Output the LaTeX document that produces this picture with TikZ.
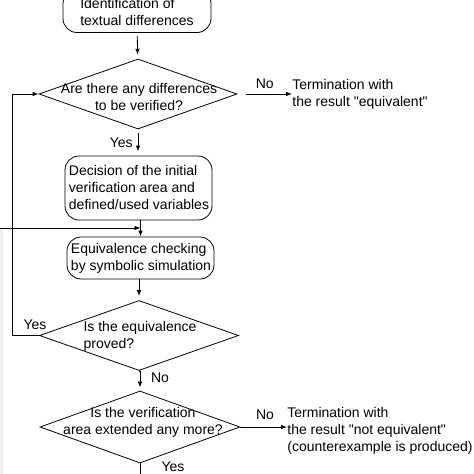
\documentclass[tikz,border=0pt]{standalone}
\usepackage{fontspec}
\setmainfont{Liberation Sans}[Ligatures=TeXOff]
\usetikzlibrary{shapes.geometric,arrows.meta}

\begin{document}
\begin{tikzpicture}[x=1pt,y=-1pt,line width=0.8pt,
	process/.style={draw,rectangle,rounded corners=14pt,inner sep=0pt},
	decision/.style={draw,diamond,inner sep=0pt},
	txt/.style={inner sep=0pt,font=\fontsize{14}{17}\selectfont},
	arrow/.style={-{Latex[length=6pt,width=4.5pt]}}]
    \useasboundingbox (0,0) rectangle (474,474);
    \clip (0,0) rectangle (474,474);
    \fill[black!7] (0,230) rectangle (3,474);

    \begin{scope}
	\node[process,minimum width=148pt,minimum height=43pt] (ident) at (137,11) {};
	\node[txt,align=left] (identtxt) at (137,11.5) {Identification of\\textual differences};
	\node[decision,minimum width=198pt,minimum height=70pt] (diff) at (138,94) {};
	\node[txt,align=center] (difftxt) at (139,97) {Are there any differences\\to be verified?};
	\node[txt,align=left,anchor=west] (equiv) at (292,94.5) {Termination with\\the result "equivalent"};
    \end{scope}

    \begin{scope}
	\node[process,minimum width=147pt,minimum height=64pt] (area) at (138.5,188) {};
	\node[txt,align=left] (areatxt) at (139,187) {Decision of the initial\\verification area and\\defined/used variables};
	\node[process,minimum width=147pt,minimum height=42pt] (check) at (140.5,258) {};
	\node[txt,align=left] (checktxt) at (141,258.5) {Equivalence checking\\by symbolic simulation};
    \end{scope}

    \begin{scope}
	\node[decision,minimum width=199pt,minimum height=70pt] (proved) at (139,335.5) {};
	\node[txt,align=left] (provedtxt) at (140,336) {Is the equivalence\\proved?};
	\node[decision,minimum width=200pt,minimum height=72pt] (extend) at (140,427) {};
	\node[txt,align=center] (extendtxt) at (143,422.5) {Is the verification\\area extended any more?};
	\node[txt,align=left,anchor=west] (notequiv) at (287,431) {Termination with\\the result "not equivalent"\\(counterexample is produced)};
    \end{scope}

    \coordinate (loopin) at (0,228);
    \coordinate (bottom) at (142,474);

    \draw[arrow,shorten <=3pt,shorten >=4pt] (ident) -- (diff);
    \draw[arrow,shorten <=9pt] (diff.east) -- (diff.east -| equiv.west) node[txt,midway,above=5pt] (no1) {No};
    \draw[arrow,shorten <=4pt,shorten >=4pt] (diff.south) -- (diff.south |- area.north) node[txt,midway,left=5pt] (yes1) {Yes};
    \draw[arrow] (area.south -| check.north) -- (check.north);
    \draw[arrow] (loopin) -- (loopin -| check.north);
    \draw[arrow,shorten >=4pt] (check.south -| proved.north) -- (proved.north);
    \draw[arrow] (proved.west) -- ++(-27,0) |- (diff.west);
    \node[txt] (yes2) at (35,325) {Yes};
    \draw[arrow,shorten >=3pt] (proved.south) -- (proved.south -| extend.north) -- (extend.north);
    \node[txt] (no2) at (160,378) {No};
    \draw[arrow] (extend.east) -- (extend.east -| notequiv.west);
    \node[txt] (no3) at (265,415) {No};
    \draw (extend.south) -- (extend.south |- bottom);
    \node[txt] (yes3) at (173,467) {Yes};
\end{tikzpicture}
\end{document}
